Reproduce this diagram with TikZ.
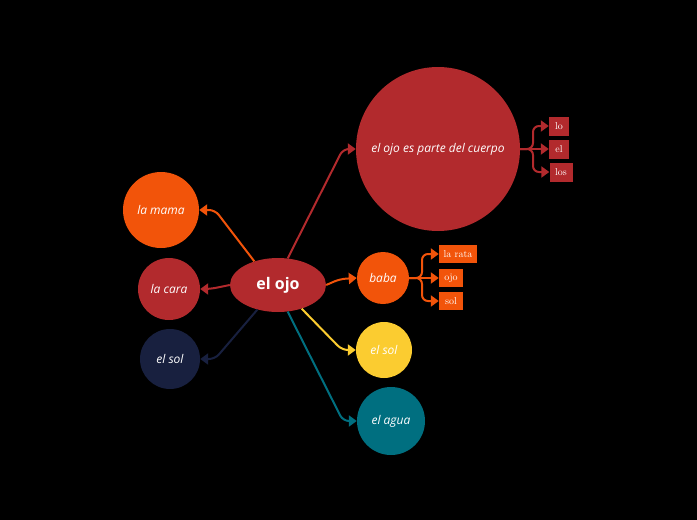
\documentclass[tikz,border=0pt]{standalone}
\usepackage{fontspec}
\newfontfamily\hand{Open Sans}
\usetikzlibrary{arrows.meta,shapes.geometric}
\definecolor{cred}{HTML}{B22A2D}
\definecolor{corange}{HTML}{F2540A}
\definecolor{cyellow}{HTML}{FBCC30}
\definecolor{cteal}{HTML}{006F80}
\definecolor{cnavy}{HTML}{18203F}
\begin{document}
\begin{tikzpicture}[x=1pt,y=-1pt,
  bub/.style={circle,inner sep=0pt,text=white,font=\hand\itshape\fontsize{12}{14}\selectfont},
  leaf/.style={rectangle,inner sep=0pt,text=white,font=\fontsize{10}{12}\selectfont},
  con/.style={line width=2pt,rounded corners=6pt,-{Triangle[length=8pt,width=11pt]}}]
\fill[black] (0,0) rectangle (697,520);
\node[ellipse,fill=cred,minimum width=96,minimum height=54,text=white,font=\hand\bfseries\fontsize{16}{18}\selectfont] (c) at (278,285) {el ojo};
\node[bub,fill=cred,minimum size=164] (big) at (438,149) {el ojo es parte del cuerpo};
\node[bub,fill=corange,minimum size=52] (baba) at (383,278) {baba};
\node[bub,fill=cyellow,minimum size=56] (sol1) at (384,350) {el sol};
\node[bub,fill=cteal,minimum size=68] (agua) at (391,421) {el agua};
\node[bub,fill=corange,minimum size=76] (mama) at (161,210) {la mama};
\node[bub,fill=cred,minimum size=62] (cara) at (169,289) {la cara};
\node[bub,fill=cnavy,minimum size=60] (sol2) at (170,359) {el sol};
\node[leaf,fill=cred,minimum width=20,minimum height=19] (lo) at (559,126) {lo};
\node[leaf,fill=cred,minimum width=20,minimum height=19] (el) at (559,149) {el};
\node[leaf,fill=cred,minimum width=23,minimum height=19] (los) at (561,172) {los};
\node[leaf,fill=corange,minimum width=38,minimum height=18] (rata) at (458,254) {la rata};
\node[leaf,fill=corange,minimum width=24,minimum height=18] (ojo) at (451,278) {ojo};
\node[leaf,fill=corange,minimum width=24,minimum height=18] (sol) at (451,301) {sol};
% center connectors
\draw[con,cred] (c.70) -- (343,149) -- (big.west);
\draw[con,corange] (c.east) -- (340,279) -- (baba.west);
\draw[con,cyellow] (c.-45) -- (342,350) -- (sol1.west);
\draw[con,cteal] (c.-70) -- (343,421) -- (agua.west);
\draw[con,corange] (c.135) -- (215,210) -- (mama.east);
\draw[con,cred] (c.west) -- (210,289) -- (cara.east);
\draw[con,cnavy] (c.-130) -- (215,359) -- (sol2.east);
% leaves
\coordinate (b1) at (533,149);
\draw[con,cred] (big.east) -- (b1) |- (lo.west);
\draw[con,cred] (big.east) -- (el.west);
\draw[con,cred] (big.east) -- (b1) |- (los.west);
\coordinate (b2) at (422,278);
\draw[con,corange] (baba.east) -- (b2) |- (rata.west);
\draw[con,corange] (baba.east) -- (ojo.west);
\draw[con,corange] (baba.east) -- (b2) |- (sol.west);
\end{tikzpicture}
\end{document}
